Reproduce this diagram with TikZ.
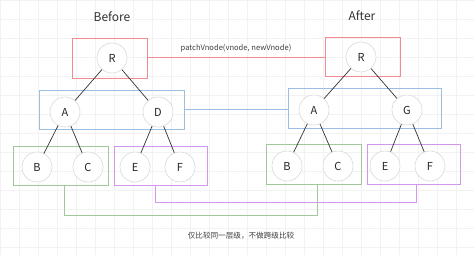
\documentclass[tikz,border=0pt]{standalone}
\usepackage{fontspec}
\setmainfont{Noto Sans CJK SC}
\begin{document}
\begin{tikzpicture}[x=1pt,y=-1pt,
  vn/.style={circle,draw=black!15,fill=white,line width=0.6pt,minimum size=30pt,inner sep=0pt,font=\fontsize{11}{11}\selectfont,text=black!85},
  edge/.style={draw=black!80,line width=0.7pt},
  redbox/.style={draw={rgb,255:red,240;green,140;blue,145},line width=0.8pt},
  bluebox/.style={draw={rgb,255:red,155;green,190;blue,228},line width=0.8pt},
  greenbox/.style={draw={rgb,255:red,160;green,200;blue,155},line width=0.8pt},
  purplebox/.style={draw={rgb,255:red,210;green,150;blue,235},line width=0.8pt},
  title/.style={font=\fontsize{12}{12}\selectfont,text=black!80},
  small/.style={font=\fontsize{7.6}{8}\selectfont,text=black!75}]
\useasboundingbox (0,0) rectangle (474,255);
\fill[white] (0,0) rectangle (474,255);
\draw[black!5,line width=0.3pt,step=19pt] (0,0) grid (474,255);
% boxes
\node[redbox,minimum width=75pt,minimum height=40pt] (rb1) at (109.5,58) {};
\node[redbox,minimum width=75pt,minimum height=39pt] (rb2) at (362.5,56.5) {};
\node[bluebox,minimum width=145pt,minimum height=39pt] (bb1) at (111.5,109.5) {};
\node[bluebox,minimum width=153pt,minimum height=40pt] (bb2) at (364.5,108) {};
\node[greenbox,minimum width=95pt,minimum height=39pt] (gb1) at (60.5,165.5) {};
\node[purplebox,minimum width=93pt,minimum height=39pt] (pb1) at (160.5,165.5) {};
\node[greenbox,minimum width=95pt,minimum height=40pt] (gb2) at (313.5,164) {};
\node[purplebox,minimum width=93pt,minimum height=40pt] (pb2) at (413.5,164) {};
% titles
\node[title] (tb) at (112,17) {Before};
\node[title] (ta) at (362,16) {After};
% connectors between boxes
\draw[redbox] (rb1.east |- 0,57) -- node[small,above=1pt] (lbl) {patchVnode(vnode, newVnode)} (rb2.west |- 0,57);
\draw[bluebox] (bb1.east |- 0,109) -- (bb2.west |- 0,109);
\coordinate (p1) at (155,202);
\coordinate (p2) at (416,202);
\draw[purplebox] (pb1.south -| p1) -- (p1) -- (p2) -- (pb2.south -| p2);
\coordinate (g1) at (64,215);
\coordinate (g2) at (317,215);
\draw[greenbox] (gb1.south -| g1) -- (g1) -- (g2) -- (gb2.south -| g2);
\node[small] (note) at (241,236) {仅比较同一层级，不做跨级比较};
% tree nodes left
\node[vn] (R1) at (112,58) {R};
\node[vn] (A1) at (65,112) {A};
\node[vn] (D1) at (158,112) {D};
\node[vn] (B1) at (37,167) {B};
\node[vn] (C1) at (88,167) {C};
\node[vn] (E1) at (135,167) {E};
\node[vn] (F1) at (180,167) {F};
% tree nodes right
\node[vn] (R2) at (361,57) {R};
\node[vn] (A2) at (314,110) {A};
\node[vn] (G2) at (407,110) {G};
\node[vn] (B2) at (287,166) {B};
\node[vn] (C2) at (338,166) {C};
\node[vn] (E2) at (385,166) {E};
\node[vn] (F2) at (430,166) {F};
% edges
\foreach \a/\b in {R1/A1,R1/D1,A1/B1,A1/C1,D1/E1,D1/F1,R2/A2,R2/G2,A2/B2,A2/C2,G2/E2,G2/F2}
  \draw[edge] (\a) -- (\b);
\end{tikzpicture}
\end{document}
